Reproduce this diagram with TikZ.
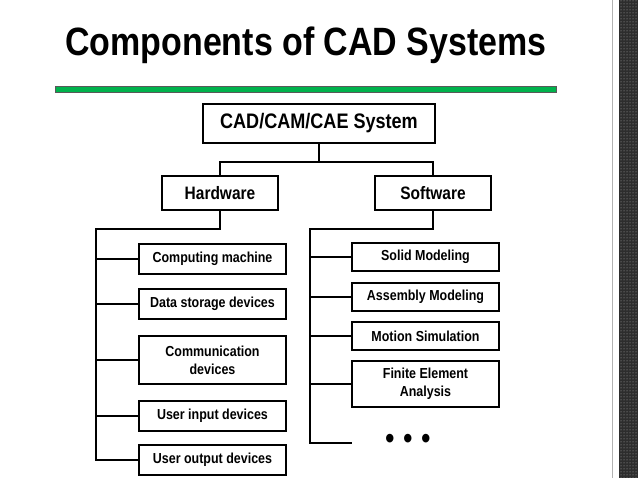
\documentclass[tikz,border=0pt]{standalone}
\usepackage{fontspec}
\setmainfont[FakeStretch=0.86]{Liberation Sans}
\usetikzlibrary{patterns}
\begin{document}
\begin{tikzpicture}[x=1pt,y=-1pt,
  box/.style={draw,line width=1.5pt,inner sep=0pt,align=center,font=\bfseries},
  conn/.style={line width=1.6pt}]
\useasboundingbox (0,0) rectangle (638,478);
\fill[white] (0,0) rectangle (638,478);
% right decorative border
\draw[gray!60,line width=1pt] (612,0) -- (612,478);
\fill[gray!35!black] (619,0) rectangle (638,478);
\fill[pattern=dots,pattern color=gray!60] (619,0) rectangle (638,478);
% title
\node[font=\bfseries\fontsize{39.5}{44}\selectfont] (title) at (306,45) {Components of CAD Systems};
\fill[teal!60!green] (55,86) rectangle (556,92);
\draw[gray!70!black,line width=0.4pt] (55,86) rectangle (556,92);
% top level
\node[box,minimum width=232pt,minimum height=39pt,font=\bfseries\fontsize{21}{24}\selectfont] (top) at (319,123.5) {CAD/CAM/CAE System};
\node[box,minimum width=116pt,minimum height=34pt,font=\bfseries\fontsize{18}{21}\selectfont] (hw) at (220,193) {Hardware};
\node[box,minimum width=116pt,minimum height=34pt,font=\bfseries\fontsize{18}{21}\selectfont] (sw) at (433,193) {Software};
\draw[conn] (top.south) -- (top.south |- 0,162) coordinate (tj);
\draw[conn] (hw.north) |- (tj) -| (sw.north);
% hardware children
\tikzset{hbox/.style={box,minimum width=147pt,font=\bfseries\fontsize{14.5}{18}\selectfont}}
\node[hbox,minimum height=30pt] (c1) at (212.5,259) {Computing machine};
\node[hbox,minimum height=30pt] (c2) at (212.5,304) {Data storage devices};
\node[hbox,minimum height=48pt] (c3) at (212.5,360) {Communication\\devices};
\node[hbox,minimum height=30pt] (c4) at (212.5,416) {User input devices};
\node[hbox,minimum height=30pt] (c5) at (212.5,460) {User output devices};
\coordinate (hl) at (96,229);
\draw[conn] (hw.south) |- (hl) |- (c5.west);
\foreach \n in {c1,c2,c3,c4} \draw[conn] (hl |- \n.west) -- (\n.west);
% software children
\tikzset{sbox/.style={box,minimum width=147pt,font=\bfseries\fontsize{14.5}{18}\selectfont}}
\node[sbox,minimum height=28pt] (s1) at (425.5,257) {Solid Modeling};
\node[sbox,minimum height=28pt] (s2) at (425.5,297) {Assembly Modeling};
\node[sbox,minimum height=28pt] (s3) at (425.5,336) {Motion Simulation};
\node[sbox,minimum height=46pt] (s4) at (425.5,384) {Finite Element\\Analysis};
\node[font=\bfseries\fontsize{30}{30}\selectfont,inner sep=0pt] (dots) at (408,441) {\textbullet\hspace{9pt}\textbullet\hspace{9pt}\textbullet};
\coordinate (sl) at (310,229);
\coordinate (dl) at (352,443);
\draw[conn] (sw.south) |- (sl) |- (dl);
\foreach \n in {s1,s2,s3,s4} \draw[conn] (sl |- \n.west) -- (\n.west);
\end{tikzpicture}
\end{document}
